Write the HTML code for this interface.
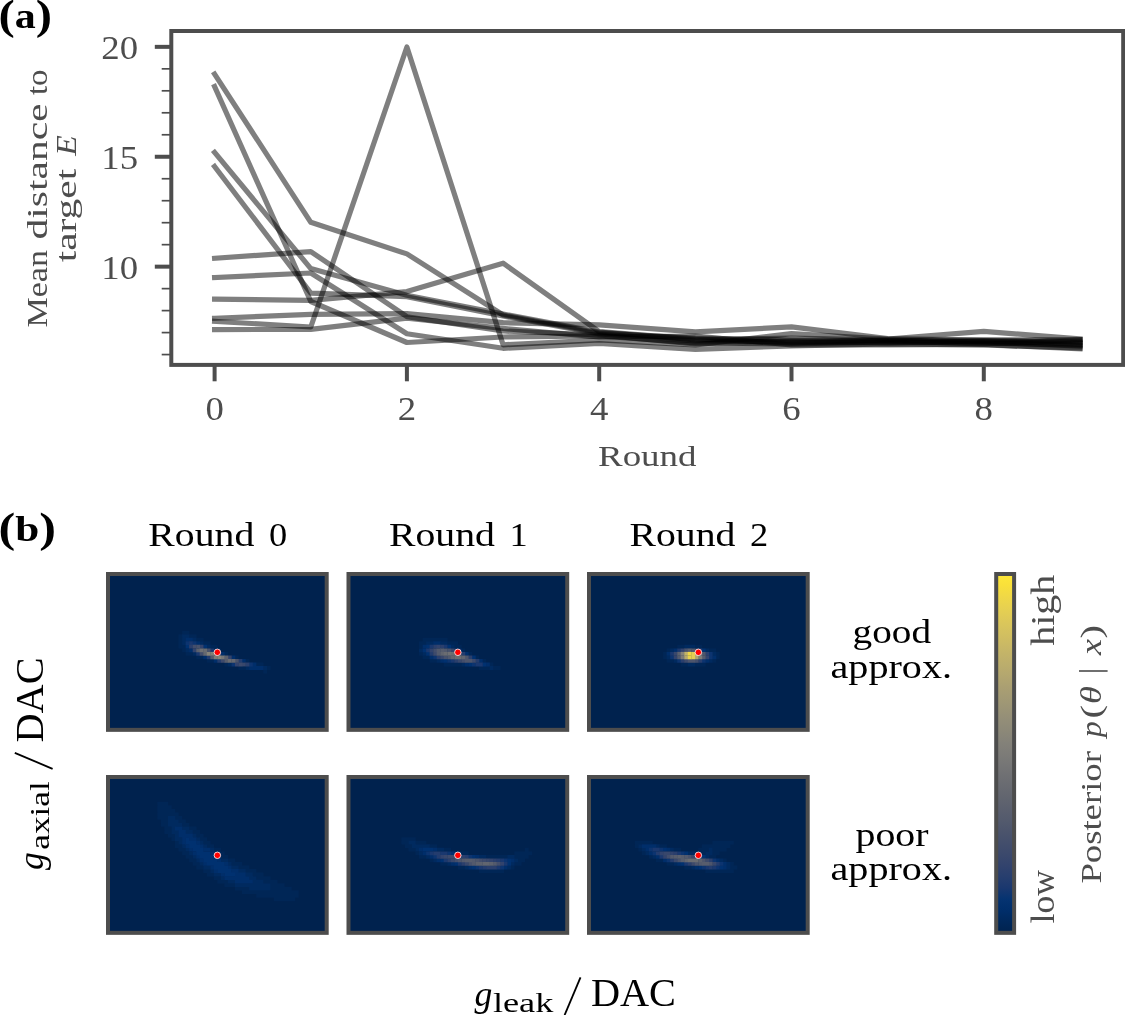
<!DOCTYPE html>
<html><head><meta charset="utf-8"><title>Figure</title>
<style>
html,body{margin:0;padding:0;background:#fff}
svg{display:block}
text{font-family:"Liberation Serif",serif}
.b{font-weight:bold}
.i{font-style:italic}
</style></head><body>
<svg width="1125" height="1015" viewBox="0 0 1125 1015">
<rect width="1125" height="1015" fill="#fff"/>
<g fill="none" stroke="#000" stroke-opacity="0.5" stroke-width="5.2" stroke-linejoin="round" stroke-linecap="square">
<polyline points="214.6,74.1 310.8,222.3 406.9,253.9 503.1,315.0 599.2,333.0 695.4,338.0 791.5,340.0 887.7,341.0 983.8,341.0 1080.0,343.0"/>
<polyline points="214.6,86.5 310.8,301.5 406.9,342.5 503.1,337.0 599.2,336.0 695.4,343.0 791.5,344.0 887.7,342.0 983.8,343.0 1080.0,345.0"/>
<polyline points="214.6,152.4 310.8,268.6 406.9,295.3 503.1,314.0 599.2,332.0 695.4,340.0 791.5,338.0 887.7,340.0 983.8,340.0 1080.0,342.0"/>
<polyline points="214.6,166.5 310.8,293.1 406.9,296.7 503.1,316.0 599.2,334.0 695.4,341.0 791.5,342.0 887.7,343.0 983.8,341.0 1080.0,344.0"/>
<polyline points="214.6,258.3 310.8,251.6 406.9,316.7 503.1,331.0 599.2,335.0 695.4,344.0 791.5,341.0 887.7,341.0 983.8,344.0 1080.0,340.0"/>
<polyline points="214.6,277.5 310.8,273.0 406.9,333.7 503.1,348.3 599.2,343.5 695.4,349.3 791.5,346.0 887.7,344.0 983.8,345.0 1080.0,348.0"/>
<polyline points="214.6,299.1 310.8,300.4 406.9,291.6 503.1,263.2 599.2,331.7 695.4,339.0 791.5,343.0 887.7,340.0 983.8,342.0 1080.0,346.0"/>
<polyline points="214.6,318.3 310.8,314.3 406.9,313.7 503.1,322.7 599.2,324.9 695.4,331.9 791.5,326.9 887.7,338.5 983.8,340.0 1080.0,339.5"/>
<polyline points="214.6,321.3 310.8,327.0 406.9,47.0 503.1,344.8 599.2,340.0 695.4,345.0 791.5,333.6 887.7,339.0 983.8,331.4 1080.0,339.0"/>
<polyline points="214.6,329.6 310.8,329.4 406.9,318.2 503.1,328.4 599.2,337.0 695.4,336.0 791.5,345.0 887.7,345.0 983.8,344.5 1080.0,348.8"/>
</g>
<g stroke="#4d4d4d" fill="none">
<line x1="154.8" x2="171.3" y1="46.85" y2="46.85" stroke-width="4"/>
<line x1="154.8" x2="171.3" y1="156.75" y2="156.75" stroke-width="4"/>
<line x1="154.8" x2="171.3" y1="266.65" y2="266.65" stroke-width="4"/>
<line x1="161.7" x2="171.3" y1="354.57" y2="354.57" stroke-width="1.7"/>
<line x1="161.7" x2="171.3" y1="332.59" y2="332.59" stroke-width="1.7"/>
<line x1="161.7" x2="171.3" y1="310.61" y2="310.61" stroke-width="1.7"/>
<line x1="161.7" x2="171.3" y1="288.63" y2="288.63" stroke-width="1.7"/>
<line x1="161.7" x2="171.3" y1="244.67" y2="244.67" stroke-width="1.7"/>
<line x1="161.7" x2="171.3" y1="222.69" y2="222.69" stroke-width="1.7"/>
<line x1="161.7" x2="171.3" y1="200.71" y2="200.71" stroke-width="1.7"/>
<line x1="161.7" x2="171.3" y1="178.73" y2="178.73" stroke-width="1.7"/>
<line x1="161.7" x2="171.3" y1="134.77" y2="134.77" stroke-width="1.7"/>
<line x1="161.7" x2="171.3" y1="112.79" y2="112.79" stroke-width="1.7"/>
<line x1="161.7" x2="171.3" y1="90.81" y2="90.81" stroke-width="1.7"/>
<line x1="161.7" x2="171.3" y1="68.83" y2="68.83" stroke-width="1.7"/>
<line x1="214.6" x2="214.6" y1="364.9" y2="381.3" stroke-width="4"/>
<line x1="406.9" x2="406.9" y1="364.9" y2="381.3" stroke-width="4"/>
<line x1="599.2" x2="599.2" y1="364.9" y2="381.3" stroke-width="4"/>
<line x1="791.5" x2="791.5" y1="364.9" y2="381.3" stroke-width="4"/>
<line x1="983.8" x2="983.8" y1="364.9" y2="381.3" stroke-width="4"/>
<rect x="171.3" y="31.0" width="951.9" height="333.9" stroke-width="4"/>
</g>
<text x="101.3" y="58.7" font-size="33.5" text-anchor="start" fill="#4d4d4d" textLength="36.8" lengthAdjust="spacingAndGlyphs">20</text>
<text x="101.3" y="168.6" font-size="33.5" text-anchor="start" fill="#4d4d4d" textLength="36.8" lengthAdjust="spacingAndGlyphs">15</text>
<text x="101.3" y="278.5" font-size="33.5" text-anchor="start" fill="#4d4d4d" textLength="36.8" lengthAdjust="spacingAndGlyphs">10</text>
<text x="205.4" y="419.8" font-size="33.5" text-anchor="start" fill="#4d4d4d" textLength="18.4" lengthAdjust="spacingAndGlyphs">0</text>
<text x="397.7" y="419.8" font-size="33.5" text-anchor="start" fill="#4d4d4d" textLength="18.4" lengthAdjust="spacingAndGlyphs">2</text>
<text x="590.0" y="419.8" font-size="33.5" text-anchor="start" fill="#4d4d4d" textLength="18.4" lengthAdjust="spacingAndGlyphs">4</text>
<text x="782.3" y="419.8" font-size="33.5" text-anchor="start" fill="#4d4d4d" textLength="18.4" lengthAdjust="spacingAndGlyphs">6</text>
<text x="974.6" y="419.8" font-size="33.5" text-anchor="start" fill="#4d4d4d" textLength="18.4" lengthAdjust="spacingAndGlyphs">8</text>
<text x="598.0" y="466.4" font-size="29.5" text-anchor="start" fill="#4d4d4d" textLength="98.5" lengthAdjust="spacingAndGlyphs">Round</text>
<text transform="translate(47.1 327.5) rotate(-90)" font-size="29.5" fill="#4d4d4d"><tspan x="0" textLength="77.5" lengthAdjust="spacingAndGlyphs">Mean</tspan> <tspan x="88" textLength="136" lengthAdjust="spacingAndGlyphs">distance</tspan> <tspan x="232.5" textLength="25.5" lengthAdjust="spacingAndGlyphs">to</tspan></text>
<text transform="translate(76.3 262.3) rotate(-90)" font-size="29.5" fill="#4d4d4d"><tspan x="0" textLength="93.5" lengthAdjust="spacingAndGlyphs">target</tspan> <tspan x="106.5" class="i" textLength="20.5" lengthAdjust="spacingAndGlyphs">E</tspan></text>
<text x="-1.5" y="27.7" font-size="36.5" fill="#000" class="b" textLength="53.5" lengthAdjust="spacingAndGlyphs"><tspan font-size="42.5" dy="1.3">(</tspan><tspan dy="-1.3">a</tspan><tspan font-size="42.5" dy="1.3">)</tspan></text>
<text x="-1.5" y="540.8" font-size="36.5" fill="#000" class="b" textLength="57.5" lengthAdjust="spacingAndGlyphs"><tspan font-size="42.5" dy="1.3">(</tspan><tspan dy="-1.3">b</tspan><tspan font-size="42.5" dy="1.3">)</tspan></text>
<defs><filter id="sb" color-interpolation-filters="sRGB" x="-5%" y="-5%" width="110%" height="110%"><feGaussianBlur stdDeviation="0.45"/></filter></defs>
<rect x="108" y="574" width="218.7" height="155.85" fill="#00224e"/>
<g filter="url(#sb)">
<path fill="#002656" d="M182.1 630.7h3.8v3.8h-3.8zM185.6 630.7h3.8v3.8h-3.8zM178.5 634.2h3.8v3.8h-3.8zM189.1 634.2h3.8v3.8h-3.8zM192.7 634.2h3.8v3.8h-3.8zM178.5 637.8h3.8v3.8h-3.8zM196.2 637.8h3.8v3.8h-3.8zM199.7 637.8h3.8v3.8h-3.8zM178.5 641.3h3.8v3.8h-3.8zM203.2 641.3h3.8v3.8h-3.8zM206.8 641.3h3.8v3.8h-3.8zM178.5 644.8h3.8v3.8h-3.8zM182.1 644.8h3.8v3.8h-3.8zM210.3 644.8h3.8v3.8h-3.8zM213.8 644.8h3.8v3.8h-3.8zM182.1 648.4h3.8v3.8h-3.8zM217.3 648.4h3.8v3.8h-3.8zM185.6 651.9h3.8v3.8h-3.8zM189.1 651.9h3.8v3.8h-3.8zM224.4 651.9h3.8v3.8h-3.8zM196.2 655.5h3.8v3.8h-3.8zM199.7 655.5h3.8v3.8h-3.8zM235.0 655.5h3.8v3.8h-3.8zM206.8 659.0h3.8v3.8h-3.8zM210.3 659.0h3.8v3.8h-3.8zM245.6 659.0h3.8v3.8h-3.8zM224.4 662.6h3.8v3.8h-3.8zM256.2 662.6h3.8v3.8h-3.8zM259.7 662.6h3.8v3.8h-3.8zM238.5 666.1h3.8v3.8h-3.8zM242.0 666.1h3.8v3.8h-3.8zM266.7 666.1h3.8v3.8h-3.8zM263.2 669.6h3.8v3.8h-3.8z"/>
<path fill="#002a5f" d="M182.1 634.2h3.8v3.8h-3.8zM185.6 634.2h3.8v3.8h-3.8zM182.1 637.8h3.8v3.8h-3.8zM192.7 637.8h3.8v3.8h-3.8zM182.1 641.3h3.8v3.8h-3.8zM199.7 641.3h3.8v3.8h-3.8zM206.8 644.8h3.8v3.8h-3.8zM185.6 648.4h3.8v3.8h-3.8zM213.8 648.4h3.8v3.8h-3.8zM192.7 651.9h3.8v3.8h-3.8zM227.9 662.6h3.8v3.8h-3.8zM245.6 666.1h3.8v3.8h-3.8zM263.2 666.1h3.8v3.8h-3.8z"/>
<path fill="#002e6a" d="M185.6 637.8h3.8v3.8h-3.8zM189.1 637.8h3.8v3.8h-3.8zM196.2 641.3h3.8v3.8h-3.8zM189.1 648.4h3.8v3.8h-3.8zM220.9 651.9h3.8v3.8h-3.8zM203.2 655.5h3.8v3.8h-3.8zM231.5 655.5h3.8v3.8h-3.8zM213.8 659.0h3.8v3.8h-3.8zM242.0 659.0h3.8v3.8h-3.8zM252.6 662.6h3.8v3.8h-3.8zM249.1 666.1h3.8v3.8h-3.8zM252.6 666.1h3.8v3.8h-3.8zM256.2 666.1h3.8v3.8h-3.8zM259.7 666.1h3.8v3.8h-3.8z"/>
<path fill="#003170" d="M185.6 644.8h3.8v3.8h-3.8zM203.2 644.8h3.8v3.8h-3.8z"/>
<path fill="#0c3470" d="M185.6 641.3h3.8v3.8h-3.8zM192.7 641.3h3.8v3.8h-3.8zM231.5 662.6h3.8v3.8h-3.8zM249.1 662.6h3.8v3.8h-3.8z"/>
<path fill="#1a386f" d="M189.1 641.3h3.8v3.8h-3.8zM210.3 648.4h3.8v3.8h-3.8zM196.2 651.9h3.8v3.8h-3.8z"/>
<path fill="#233c6e" d="M206.8 655.5h3.8v3.8h-3.8zM217.3 659.0h3.8v3.8h-3.8zM238.5 659.0h3.8v3.8h-3.8z"/>
<path fill="#2a3f6d" d="M189.1 644.8h3.8v3.8h-3.8zM217.3 651.9h3.8v3.8h-3.8zM245.6 662.6h3.8v3.8h-3.8z"/>
<path fill="#32436d" d="M199.7 644.8h3.8v3.8h-3.8zM192.7 648.4h3.8v3.8h-3.8zM227.9 655.5h3.8v3.8h-3.8zM235.0 662.6h3.8v3.8h-3.8z"/>
<path fill="#38476c" d="M242.0 662.6h3.8v3.8h-3.8z"/>
<path fill="#3d4a6c" d="M220.9 659.0h3.8v3.8h-3.8zM238.5 662.6h3.8v3.8h-3.8z"/>
<path fill="#434e6c" d="M192.7 644.8h3.8v3.8h-3.8zM199.7 651.9h3.8v3.8h-3.8z"/>
<path fill="#48526c" d="M196.2 644.8h3.8v3.8h-3.8zM206.8 648.4h3.8v3.8h-3.8zM235.0 659.0h3.8v3.8h-3.8z"/>
<path fill="#535a6d" d="M210.3 655.5h3.8v3.8h-3.8z"/>
<path fill="#575d6d" d="M224.4 659.0h3.8v3.8h-3.8z"/>
<path fill="#5c616e" d="M196.2 648.4h3.8v3.8h-3.8zM213.8 651.9h3.8v3.8h-3.8zM224.4 655.5h3.8v3.8h-3.8z"/>
<path fill="#656870" d="M203.2 651.9h3.8v3.8h-3.8zM231.5 659.0h3.8v3.8h-3.8z"/>
<path fill="#6a6c71" d="M203.2 648.4h3.8v3.8h-3.8zM227.9 659.0h3.8v3.8h-3.8z"/>
<path fill="#6f7073" d="M199.7 648.4h3.8v3.8h-3.8z"/>
<path fill="#777777" d="M220.9 655.5h3.8v3.8h-3.8z"/>
<path fill="#7d7c78" d="M213.8 655.5h3.8v3.8h-3.8z"/>
<path fill="#817f78" d="M210.3 651.9h3.8v3.8h-3.8z"/>
<path fill="#868379" d="M206.8 651.9h3.8v3.8h-3.8zM217.3 655.5h3.8v3.8h-3.8z"/>
</g>
<circle cx="217.35" cy="652.32" r="3.25" fill="#ff0000" stroke="#fff" stroke-width="0.8"/>
<rect x="108" y="574" width="218.7" height="155.85" fill="none" stroke="#4d4d4d" stroke-width="4"/>
<rect x="348.5" y="574" width="218.7" height="155.85" fill="#00224e"/>
<g filter="url(#sb)">
<path fill="#002656" d="M422.6 637.8h3.8v3.8h-3.8zM426.1 637.8h3.8v3.8h-3.8zM429.6 637.8h3.8v3.8h-3.8zM433.2 637.8h3.8v3.8h-3.8zM436.7 637.8h3.8v3.8h-3.8zM440.2 637.8h3.8v3.8h-3.8zM443.7 637.8h3.8v3.8h-3.8zM419.0 641.3h3.8v3.8h-3.8zM422.6 641.3h3.8v3.8h-3.8zM447.3 641.3h3.8v3.8h-3.8zM450.8 641.3h3.8v3.8h-3.8zM454.3 641.3h3.8v3.8h-3.8zM419.0 644.8h3.8v3.8h-3.8zM454.3 644.8h3.8v3.8h-3.8zM457.9 644.8h3.8v3.8h-3.8zM461.4 648.4h3.8v3.8h-3.8zM419.0 651.9h3.8v3.8h-3.8zM468.4 651.9h3.8v3.8h-3.8zM422.6 655.5h3.8v3.8h-3.8zM426.1 655.5h3.8v3.8h-3.8zM475.5 655.5h3.8v3.8h-3.8zM429.6 659.0h3.8v3.8h-3.8zM433.2 659.0h3.8v3.8h-3.8zM482.5 659.0h3.8v3.8h-3.8zM443.7 662.6h3.8v3.8h-3.8zM447.3 662.6h3.8v3.8h-3.8zM450.8 662.6h3.8v3.8h-3.8zM454.3 662.6h3.8v3.8h-3.8zM457.9 662.6h3.8v3.8h-3.8zM489.6 662.6h3.8v3.8h-3.8zM479.0 666.1h3.8v3.8h-3.8zM482.5 666.1h3.8v3.8h-3.8zM486.1 666.1h3.8v3.8h-3.8zM493.1 666.1h3.8v3.8h-3.8zM496.7 666.1h3.8v3.8h-3.8z"/>
<path fill="#002a5f" d="M426.1 641.3h3.8v3.8h-3.8zM429.6 641.3h3.8v3.8h-3.8zM440.2 641.3h3.8v3.8h-3.8zM443.7 641.3h3.8v3.8h-3.8zM450.8 644.8h3.8v3.8h-3.8zM419.0 648.4h3.8v3.8h-3.8zM422.6 651.9h3.8v3.8h-3.8zM436.7 659.0h3.8v3.8h-3.8zM461.4 662.6h3.8v3.8h-3.8zM489.6 666.1h3.8v3.8h-3.8z"/>
<path fill="#002e6a" d="M433.2 641.3h3.8v3.8h-3.8zM436.7 641.3h3.8v3.8h-3.8zM422.6 644.8h3.8v3.8h-3.8zM457.9 648.4h3.8v3.8h-3.8zM464.9 651.9h3.8v3.8h-3.8zM429.6 655.5h3.8v3.8h-3.8zM440.2 659.0h3.8v3.8h-3.8zM479.0 659.0h3.8v3.8h-3.8zM464.9 662.6h3.8v3.8h-3.8zM486.1 662.6h3.8v3.8h-3.8z"/>
<path fill="#003170" d="M426.1 644.8h3.8v3.8h-3.8zM447.3 644.8h3.8v3.8h-3.8zM422.6 648.4h3.8v3.8h-3.8zM426.1 651.9h3.8v3.8h-3.8zM472.0 655.5h3.8v3.8h-3.8zM443.7 659.0h3.8v3.8h-3.8zM468.4 662.6h3.8v3.8h-3.8zM482.5 662.6h3.8v3.8h-3.8z"/>
<path fill="#0c3470" d="M433.2 655.5h3.8v3.8h-3.8zM447.3 659.0h3.8v3.8h-3.8zM472.0 662.6h3.8v3.8h-3.8z"/>
<path fill="#1a386f" d="M429.6 644.8h3.8v3.8h-3.8zM443.7 644.8h3.8v3.8h-3.8zM426.1 648.4h3.8v3.8h-3.8zM454.3 648.4h3.8v3.8h-3.8zM450.8 659.0h3.8v3.8h-3.8zM475.5 662.6h3.8v3.8h-3.8zM479.0 662.6h3.8v3.8h-3.8z"/>
<path fill="#233c6e" d="M429.6 651.9h3.8v3.8h-3.8zM461.4 651.9h3.8v3.8h-3.8zM475.5 659.0h3.8v3.8h-3.8z"/>
<path fill="#2a3f6d" d="M433.2 644.8h3.8v3.8h-3.8zM440.2 644.8h3.8v3.8h-3.8zM436.7 655.5h3.8v3.8h-3.8zM468.4 655.5h3.8v3.8h-3.8zM454.3 659.0h3.8v3.8h-3.8z"/>
<path fill="#32436d" d="M436.7 644.8h3.8v3.8h-3.8zM429.6 648.4h3.8v3.8h-3.8z"/>
<path fill="#38476c" d="M450.8 648.4h3.8v3.8h-3.8zM440.2 655.5h3.8v3.8h-3.8zM457.9 659.0h3.8v3.8h-3.8z"/>
<path fill="#3d4a6c" d="M433.2 651.9h3.8v3.8h-3.8zM472.0 659.0h3.8v3.8h-3.8z"/>
<path fill="#434e6c" d="M433.2 648.4h3.8v3.8h-3.8zM457.9 651.9h3.8v3.8h-3.8zM461.4 659.0h3.8v3.8h-3.8z"/>
<path fill="#48526c" d="M447.3 648.4h3.8v3.8h-3.8zM443.7 655.5h3.8v3.8h-3.8z"/>
<path fill="#4d556c" d="M464.9 655.5h3.8v3.8h-3.8zM464.9 659.0h3.8v3.8h-3.8zM468.4 659.0h3.8v3.8h-3.8z"/>
<path fill="#535a6d" d="M436.7 648.4h3.8v3.8h-3.8zM443.7 648.4h3.8v3.8h-3.8zM436.7 651.9h3.8v3.8h-3.8zM447.3 655.5h3.8v3.8h-3.8z"/>
<path fill="#575d6d" d="M440.2 648.4h3.8v3.8h-3.8z"/>
<path fill="#5c616e" d="M454.3 651.9h3.8v3.8h-3.8z"/>
<path fill="#61656f" d="M440.2 651.9h3.8v3.8h-3.8zM450.8 655.5h3.8v3.8h-3.8zM461.4 655.5h3.8v3.8h-3.8z"/>
<path fill="#6a6c71" d="M443.7 651.9h3.8v3.8h-3.8zM450.8 651.9h3.8v3.8h-3.8zM454.3 655.5h3.8v3.8h-3.8zM457.9 655.5h3.8v3.8h-3.8z"/>
<path fill="#6f7073" d="M447.3 651.9h3.8v3.8h-3.8z"/>
</g>
<circle cx="457.85" cy="652.32" r="3.25" fill="#ff0000" stroke="#fff" stroke-width="0.8"/>
<rect x="348.5" y="574" width="218.7" height="155.85" fill="none" stroke="#4d4d4d" stroke-width="4"/>
<rect x="589" y="574" width="218.7" height="155.85" fill="#00224e"/>
<g filter="url(#sb)">
<path fill="#002656" d="M677.2 644.8h3.8v3.8h-3.8zM680.7 644.8h3.8v3.8h-3.8zM694.8 644.8h3.8v3.8h-3.8zM698.4 644.8h3.8v3.8h-3.8zM666.6 648.4h3.8v3.8h-3.8zM708.9 648.4h3.8v3.8h-3.8zM712.5 648.4h3.8v3.8h-3.8zM663.1 651.9h3.8v3.8h-3.8zM716.0 651.9h3.8v3.8h-3.8zM663.1 655.5h3.8v3.8h-3.8zM716.0 655.5h3.8v3.8h-3.8zM666.6 659.0h3.8v3.8h-3.8zM670.1 659.0h3.8v3.8h-3.8zM712.5 659.0h3.8v3.8h-3.8zM680.7 662.6h3.8v3.8h-3.8zM684.2 662.6h3.8v3.8h-3.8zM694.8 662.6h3.8v3.8h-3.8zM698.4 662.6h3.8v3.8h-3.8zM701.9 662.6h3.8v3.8h-3.8z"/>
<path fill="#002a5f" d="M684.2 644.8h3.8v3.8h-3.8zM687.8 644.8h3.8v3.8h-3.8zM691.3 644.8h3.8v3.8h-3.8zM670.1 648.4h3.8v3.8h-3.8zM705.4 648.4h3.8v3.8h-3.8zM712.5 651.9h3.8v3.8h-3.8zM666.6 655.5h3.8v3.8h-3.8zM673.7 659.0h3.8v3.8h-3.8zM708.9 659.0h3.8v3.8h-3.8zM687.8 662.6h3.8v3.8h-3.8zM691.3 662.6h3.8v3.8h-3.8z"/>
<path fill="#002e6a" d="M673.7 648.4h3.8v3.8h-3.8zM666.6 651.9h3.8v3.8h-3.8zM712.5 655.5h3.8v3.8h-3.8zM705.4 659.0h3.8v3.8h-3.8z"/>
<path fill="#003170" d="M701.9 648.4h3.8v3.8h-3.8z"/>
<path fill="#0c3470" d="M708.9 651.9h3.8v3.8h-3.8zM670.1 655.5h3.8v3.8h-3.8zM708.9 655.5h3.8v3.8h-3.8zM677.2 659.0h3.8v3.8h-3.8zM701.9 659.0h3.8v3.8h-3.8z"/>
<path fill="#1a386f" d="M677.2 648.4h3.8v3.8h-3.8zM670.1 651.9h3.8v3.8h-3.8z"/>
<path fill="#233c6e" d="M698.4 648.4h3.8v3.8h-3.8z"/>
<path fill="#2a3f6d" d="M705.4 651.9h3.8v3.8h-3.8zM680.7 659.0h3.8v3.8h-3.8zM698.4 659.0h3.8v3.8h-3.8z"/>
<path fill="#32436d" d="M680.7 648.4h3.8v3.8h-3.8zM673.7 655.5h3.8v3.8h-3.8zM705.4 655.5h3.8v3.8h-3.8z"/>
<path fill="#38476c" d="M673.7 651.9h3.8v3.8h-3.8z"/>
<path fill="#3d4a6c" d="M694.8 648.4h3.8v3.8h-3.8zM684.2 659.0h3.8v3.8h-3.8z"/>
<path fill="#434e6c" d="M694.8 659.0h3.8v3.8h-3.8z"/>
<path fill="#48526c" d="M684.2 648.4h3.8v3.8h-3.8z"/>
<path fill="#4d556c" d="M701.9 651.9h3.8v3.8h-3.8zM687.8 659.0h3.8v3.8h-3.8zM691.3 659.0h3.8v3.8h-3.8z"/>
<path fill="#535a6d" d="M691.3 648.4h3.8v3.8h-3.8zM677.2 655.5h3.8v3.8h-3.8zM701.9 655.5h3.8v3.8h-3.8z"/>
<path fill="#575d6d" d="M687.8 648.4h3.8v3.8h-3.8z"/>
<path fill="#5c616e" d="M677.2 651.9h3.8v3.8h-3.8z"/>
<path fill="#777777" d="M698.4 651.9h3.8v3.8h-3.8z"/>
<path fill="#7d7c78" d="M680.7 655.5h3.8v3.8h-3.8zM698.4 655.5h3.8v3.8h-3.8z"/>
<path fill="#868379" d="M680.7 651.9h3.8v3.8h-3.8z"/>
<path fill="#b0a571" d="M694.8 651.9h3.8v3.8h-3.8zM694.8 655.5h3.8v3.8h-3.8z"/>
<path fill="#b6a96f" d="M684.2 655.5h3.8v3.8h-3.8z"/>
<path fill="#c1b26a" d="M684.2 651.9h3.8v3.8h-3.8z"/>
<path fill="#e4ce53" d="M691.3 651.9h3.8v3.8h-3.8zM691.3 655.5h3.8v3.8h-3.8z"/>
<path fill="#e9d34e" d="M687.8 655.5h3.8v3.8h-3.8z"/>
<path fill="#f0d846" d="M687.8 651.9h3.8v3.8h-3.8z"/>
</g>
<circle cx="698.35" cy="652.32" r="3.25" fill="#ff0000" stroke="#fff" stroke-width="0.8"/>
<rect x="589" y="574" width="218.7" height="155.85" fill="none" stroke="#4d4d4d" stroke-width="4"/>
<rect x="108" y="777" width="218.7" height="155.85" fill="#00224e"/>
<g filter="url(#sb)">
<path fill="#002656" d="M157.4 801.8h3.8v3.8h-3.8zM160.9 801.8h3.8v3.8h-3.8zM164.4 801.8h3.8v3.8h-3.8zM157.4 805.3h3.8v3.8h-3.8zM160.9 805.3h3.8v3.8h-3.8zM164.4 805.3h3.8v3.8h-3.8zM168.0 805.3h3.8v3.8h-3.8zM157.4 808.9h3.8v3.8h-3.8zM160.9 808.9h3.8v3.8h-3.8zM164.4 808.9h3.8v3.8h-3.8zM168.0 808.9h3.8v3.8h-3.8zM171.5 808.9h3.8v3.8h-3.8zM157.4 812.4h3.8v3.8h-3.8zM160.9 812.4h3.8v3.8h-3.8zM164.4 812.4h3.8v3.8h-3.8zM168.0 812.4h3.8v3.8h-3.8zM171.5 812.4h3.8v3.8h-3.8zM175.0 812.4h3.8v3.8h-3.8zM157.4 816.0h3.8v3.8h-3.8zM160.9 816.0h3.8v3.8h-3.8zM164.4 816.0h3.8v3.8h-3.8zM175.0 816.0h3.8v3.8h-3.8zM178.5 816.0h3.8v3.8h-3.8zM160.9 819.5h3.8v3.8h-3.8zM164.4 819.5h3.8v3.8h-3.8zM178.5 819.5h3.8v3.8h-3.8zM182.1 819.5h3.8v3.8h-3.8zM160.9 823.0h3.8v3.8h-3.8zM164.4 823.0h3.8v3.8h-3.8zM182.1 823.0h3.8v3.8h-3.8zM185.6 823.0h3.8v3.8h-3.8zM164.4 826.6h3.8v3.8h-3.8zM168.0 826.6h3.8v3.8h-3.8zM189.1 826.6h3.8v3.8h-3.8zM192.7 826.6h3.8v3.8h-3.8zM164.4 830.1h3.8v3.8h-3.8zM168.0 830.1h3.8v3.8h-3.8zM192.7 830.1h3.8v3.8h-3.8zM196.2 830.1h3.8v3.8h-3.8zM168.0 833.7h3.8v3.8h-3.8zM171.5 833.7h3.8v3.8h-3.8zM196.2 833.7h3.8v3.8h-3.8zM199.7 833.7h3.8v3.8h-3.8zM171.5 837.2h3.8v3.8h-3.8zM199.7 837.2h3.8v3.8h-3.8zM203.2 837.2h3.8v3.8h-3.8zM175.0 840.8h3.8v3.8h-3.8zM203.2 840.8h3.8v3.8h-3.8zM206.8 840.8h3.8v3.8h-3.8zM175.0 844.3h3.8v3.8h-3.8zM178.5 844.3h3.8v3.8h-3.8zM206.8 844.3h3.8v3.8h-3.8zM210.3 844.3h3.8v3.8h-3.8zM178.5 847.8h3.8v3.8h-3.8zM182.1 847.8h3.8v3.8h-3.8zM213.8 847.8h3.8v3.8h-3.8zM217.3 847.8h3.8v3.8h-3.8zM182.1 851.4h3.8v3.8h-3.8zM185.6 851.4h3.8v3.8h-3.8zM217.3 851.4h3.8v3.8h-3.8zM220.9 851.4h3.8v3.8h-3.8zM185.6 854.9h3.8v3.8h-3.8zM189.1 854.9h3.8v3.8h-3.8zM220.9 854.9h3.8v3.8h-3.8zM224.4 854.9h3.8v3.8h-3.8zM189.1 858.5h3.8v3.8h-3.8zM192.7 858.5h3.8v3.8h-3.8zM227.9 858.5h3.8v3.8h-3.8zM231.5 858.5h3.8v3.8h-3.8zM192.7 862.0h3.8v3.8h-3.8zM196.2 862.0h3.8v3.8h-3.8zM231.5 862.0h3.8v3.8h-3.8zM235.0 862.0h3.8v3.8h-3.8zM238.5 862.0h3.8v3.8h-3.8zM196.2 865.6h3.8v3.8h-3.8zM199.7 865.6h3.8v3.8h-3.8zM238.5 865.6h3.8v3.8h-3.8zM242.0 865.6h3.8v3.8h-3.8zM245.6 865.6h3.8v3.8h-3.8zM203.2 869.1h3.8v3.8h-3.8zM206.8 869.1h3.8v3.8h-3.8zM245.6 869.1h3.8v3.8h-3.8zM249.1 869.1h3.8v3.8h-3.8zM252.6 869.1h3.8v3.8h-3.8zM206.8 872.6h3.8v3.8h-3.8zM210.3 872.6h3.8v3.8h-3.8zM252.6 872.6h3.8v3.8h-3.8zM256.2 872.6h3.8v3.8h-3.8zM259.7 872.6h3.8v3.8h-3.8zM213.8 876.2h3.8v3.8h-3.8zM217.3 876.2h3.8v3.8h-3.8zM256.2 876.2h3.8v3.8h-3.8zM259.7 876.2h3.8v3.8h-3.8zM263.2 876.2h3.8v3.8h-3.8zM266.7 876.2h3.8v3.8h-3.8zM217.3 879.7h3.8v3.8h-3.8zM220.9 879.7h3.8v3.8h-3.8zM224.4 879.7h3.8v3.8h-3.8zM263.2 879.7h3.8v3.8h-3.8zM266.7 879.7h3.8v3.8h-3.8zM270.3 879.7h3.8v3.8h-3.8zM273.8 879.7h3.8v3.8h-3.8zM224.4 883.3h3.8v3.8h-3.8zM227.9 883.3h3.8v3.8h-3.8zM231.5 883.3h3.8v3.8h-3.8zM270.3 883.3h3.8v3.8h-3.8zM273.8 883.3h3.8v3.8h-3.8zM277.3 883.3h3.8v3.8h-3.8zM280.8 883.3h3.8v3.8h-3.8zM235.0 886.8h3.8v3.8h-3.8zM238.5 886.8h3.8v3.8h-3.8zM242.0 886.8h3.8v3.8h-3.8zM245.6 886.8h3.8v3.8h-3.8zM270.3 886.8h3.8v3.8h-3.8zM273.8 886.8h3.8v3.8h-3.8zM277.3 886.8h3.8v3.8h-3.8zM280.8 886.8h3.8v3.8h-3.8zM284.4 886.8h3.8v3.8h-3.8zM287.9 886.8h3.8v3.8h-3.8zM242.0 890.3h3.8v3.8h-3.8zM245.6 890.3h3.8v3.8h-3.8zM249.1 890.3h3.8v3.8h-3.8zM252.6 890.3h3.8v3.8h-3.8zM256.2 890.3h3.8v3.8h-3.8zM259.7 890.3h3.8v3.8h-3.8zM263.2 890.3h3.8v3.8h-3.8zM266.7 890.3h3.8v3.8h-3.8zM270.3 890.3h3.8v3.8h-3.8zM273.8 890.3h3.8v3.8h-3.8zM277.3 890.3h3.8v3.8h-3.8zM280.8 890.3h3.8v3.8h-3.8zM284.4 890.3h3.8v3.8h-3.8zM287.9 890.3h3.8v3.8h-3.8zM291.4 890.3h3.8v3.8h-3.8zM295.0 890.3h3.8v3.8h-3.8zM256.2 893.9h3.8v3.8h-3.8zM259.7 893.9h3.8v3.8h-3.8zM263.2 893.9h3.8v3.8h-3.8zM266.7 893.9h3.8v3.8h-3.8zM270.3 893.9h3.8v3.8h-3.8zM273.8 893.9h3.8v3.8h-3.8zM277.3 893.9h3.8v3.8h-3.8zM280.8 893.9h3.8v3.8h-3.8zM284.4 893.9h3.8v3.8h-3.8zM287.9 893.9h3.8v3.8h-3.8zM291.4 893.9h3.8v3.8h-3.8zM295.0 893.9h3.8v3.8h-3.8zM273.8 897.4h3.8v3.8h-3.8zM277.3 897.4h3.8v3.8h-3.8zM280.8 897.4h3.8v3.8h-3.8zM284.4 897.4h3.8v3.8h-3.8zM287.9 897.4h3.8v3.8h-3.8zM291.4 897.4h3.8v3.8h-3.8z"/>
<path fill="#002a5f" d="M168.0 816.0h3.8v3.8h-3.8zM171.5 816.0h3.8v3.8h-3.8zM168.0 819.5h3.8v3.8h-3.8zM171.5 819.5h3.8v3.8h-3.8zM175.0 819.5h3.8v3.8h-3.8zM168.0 823.0h3.8v3.8h-3.8zM171.5 823.0h3.8v3.8h-3.8zM175.0 823.0h3.8v3.8h-3.8zM178.5 823.0h3.8v3.8h-3.8zM171.5 826.6h3.8v3.8h-3.8zM182.1 826.6h3.8v3.8h-3.8zM185.6 826.6h3.8v3.8h-3.8zM171.5 830.1h3.8v3.8h-3.8zM175.0 830.1h3.8v3.8h-3.8zM185.6 830.1h3.8v3.8h-3.8zM189.1 830.1h3.8v3.8h-3.8zM175.0 833.7h3.8v3.8h-3.8zM192.7 833.7h3.8v3.8h-3.8zM175.0 837.2h3.8v3.8h-3.8zM178.5 837.2h3.8v3.8h-3.8zM196.2 837.2h3.8v3.8h-3.8zM178.5 840.8h3.8v3.8h-3.8zM199.7 840.8h3.8v3.8h-3.8zM182.1 844.3h3.8v3.8h-3.8zM203.2 844.3h3.8v3.8h-3.8zM185.6 847.8h3.8v3.8h-3.8zM210.3 847.8h3.8v3.8h-3.8zM189.1 851.4h3.8v3.8h-3.8zM213.8 851.4h3.8v3.8h-3.8zM192.7 854.9h3.8v3.8h-3.8zM217.3 854.9h3.8v3.8h-3.8zM196.2 858.5h3.8v3.8h-3.8zM220.9 858.5h3.8v3.8h-3.8zM224.4 858.5h3.8v3.8h-3.8zM199.7 862.0h3.8v3.8h-3.8zM227.9 862.0h3.8v3.8h-3.8zM203.2 865.6h3.8v3.8h-3.8zM206.8 865.6h3.8v3.8h-3.8zM231.5 865.6h3.8v3.8h-3.8zM235.0 865.6h3.8v3.8h-3.8zM210.3 869.1h3.8v3.8h-3.8zM238.5 869.1h3.8v3.8h-3.8zM242.0 869.1h3.8v3.8h-3.8zM213.8 872.6h3.8v3.8h-3.8zM217.3 872.6h3.8v3.8h-3.8zM245.6 872.6h3.8v3.8h-3.8zM249.1 872.6h3.8v3.8h-3.8zM220.9 876.2h3.8v3.8h-3.8zM249.1 876.2h3.8v3.8h-3.8zM252.6 876.2h3.8v3.8h-3.8zM227.9 879.7h3.8v3.8h-3.8zM231.5 879.7h3.8v3.8h-3.8zM252.6 879.7h3.8v3.8h-3.8zM256.2 879.7h3.8v3.8h-3.8zM259.7 879.7h3.8v3.8h-3.8zM235.0 883.3h3.8v3.8h-3.8zM238.5 883.3h3.8v3.8h-3.8zM242.0 883.3h3.8v3.8h-3.8zM245.6 883.3h3.8v3.8h-3.8zM249.1 883.3h3.8v3.8h-3.8zM252.6 883.3h3.8v3.8h-3.8zM256.2 883.3h3.8v3.8h-3.8zM259.7 883.3h3.8v3.8h-3.8zM263.2 883.3h3.8v3.8h-3.8zM266.7 883.3h3.8v3.8h-3.8zM249.1 886.8h3.8v3.8h-3.8zM252.6 886.8h3.8v3.8h-3.8zM256.2 886.8h3.8v3.8h-3.8zM259.7 886.8h3.8v3.8h-3.8zM263.2 886.8h3.8v3.8h-3.8zM266.7 886.8h3.8v3.8h-3.8z"/>
<path fill="#002e6a" d="M175.0 826.6h3.8v3.8h-3.8zM178.5 826.6h3.8v3.8h-3.8zM178.5 830.1h3.8v3.8h-3.8zM182.1 830.1h3.8v3.8h-3.8zM178.5 833.7h3.8v3.8h-3.8zM182.1 833.7h3.8v3.8h-3.8zM185.6 833.7h3.8v3.8h-3.8zM189.1 833.7h3.8v3.8h-3.8zM182.1 837.2h3.8v3.8h-3.8zM189.1 837.2h3.8v3.8h-3.8zM192.7 837.2h3.8v3.8h-3.8zM182.1 840.8h3.8v3.8h-3.8zM196.2 840.8h3.8v3.8h-3.8zM185.6 844.3h3.8v3.8h-3.8zM199.7 844.3h3.8v3.8h-3.8zM189.1 847.8h3.8v3.8h-3.8zM203.2 847.8h3.8v3.8h-3.8zM206.8 847.8h3.8v3.8h-3.8zM192.7 851.4h3.8v3.8h-3.8zM210.3 851.4h3.8v3.8h-3.8zM196.2 854.9h3.8v3.8h-3.8zM213.8 854.9h3.8v3.8h-3.8zM199.7 858.5h3.8v3.8h-3.8zM217.3 858.5h3.8v3.8h-3.8zM203.2 862.0h3.8v3.8h-3.8zM224.4 862.0h3.8v3.8h-3.8zM210.3 865.6h3.8v3.8h-3.8zM227.9 865.6h3.8v3.8h-3.8zM213.8 869.1h3.8v3.8h-3.8zM231.5 869.1h3.8v3.8h-3.8zM235.0 869.1h3.8v3.8h-3.8zM220.9 872.6h3.8v3.8h-3.8zM235.0 872.6h3.8v3.8h-3.8zM238.5 872.6h3.8v3.8h-3.8zM242.0 872.6h3.8v3.8h-3.8zM224.4 876.2h3.8v3.8h-3.8zM227.9 876.2h3.8v3.8h-3.8zM231.5 876.2h3.8v3.8h-3.8zM235.0 876.2h3.8v3.8h-3.8zM238.5 876.2h3.8v3.8h-3.8zM242.0 876.2h3.8v3.8h-3.8zM245.6 876.2h3.8v3.8h-3.8zM235.0 879.7h3.8v3.8h-3.8zM238.5 879.7h3.8v3.8h-3.8zM242.0 879.7h3.8v3.8h-3.8zM245.6 879.7h3.8v3.8h-3.8zM249.1 879.7h3.8v3.8h-3.8z"/>
<path fill="#003170" d="M185.6 837.2h3.8v3.8h-3.8zM185.6 840.8h3.8v3.8h-3.8zM189.1 840.8h3.8v3.8h-3.8zM192.7 840.8h3.8v3.8h-3.8zM189.1 844.3h3.8v3.8h-3.8zM192.7 844.3h3.8v3.8h-3.8zM196.2 844.3h3.8v3.8h-3.8zM192.7 847.8h3.8v3.8h-3.8zM196.2 847.8h3.8v3.8h-3.8zM199.7 847.8h3.8v3.8h-3.8zM196.2 851.4h3.8v3.8h-3.8zM199.7 851.4h3.8v3.8h-3.8zM203.2 851.4h3.8v3.8h-3.8zM206.8 851.4h3.8v3.8h-3.8zM199.7 854.9h3.8v3.8h-3.8zM203.2 854.9h3.8v3.8h-3.8zM206.8 854.9h3.8v3.8h-3.8zM210.3 854.9h3.8v3.8h-3.8zM203.2 858.5h3.8v3.8h-3.8zM206.8 858.5h3.8v3.8h-3.8zM210.3 858.5h3.8v3.8h-3.8zM213.8 858.5h3.8v3.8h-3.8zM206.8 862.0h3.8v3.8h-3.8zM210.3 862.0h3.8v3.8h-3.8zM213.8 862.0h3.8v3.8h-3.8zM217.3 862.0h3.8v3.8h-3.8zM220.9 862.0h3.8v3.8h-3.8zM213.8 865.6h3.8v3.8h-3.8zM217.3 865.6h3.8v3.8h-3.8zM220.9 865.6h3.8v3.8h-3.8zM224.4 865.6h3.8v3.8h-3.8zM217.3 869.1h3.8v3.8h-3.8zM220.9 869.1h3.8v3.8h-3.8zM224.4 869.1h3.8v3.8h-3.8zM227.9 869.1h3.8v3.8h-3.8zM224.4 872.6h3.8v3.8h-3.8zM227.9 872.6h3.8v3.8h-3.8zM231.5 872.6h3.8v3.8h-3.8z"/>
</g>
<circle cx="217.35" cy="855.32" r="3.25" fill="#ff0000" stroke="#fff" stroke-width="0.8"/>
<rect x="108" y="777" width="218.7" height="155.85" fill="none" stroke="#4d4d4d" stroke-width="4"/>
<rect x="348.5" y="777" width="218.7" height="155.85" fill="#00224e"/>
<g filter="url(#sb)">
<path fill="#002656" d="M401.4 837.2h3.8v3.8h-3.8zM404.9 837.2h3.8v3.8h-3.8zM408.5 837.2h3.8v3.8h-3.8zM412.0 837.2h3.8v3.8h-3.8zM401.4 840.8h3.8v3.8h-3.8zM404.9 840.8h3.8v3.8h-3.8zM415.5 840.8h3.8v3.8h-3.8zM419.0 840.8h3.8v3.8h-3.8zM422.6 840.8h3.8v3.8h-3.8zM404.9 844.3h3.8v3.8h-3.8zM408.5 844.3h3.8v3.8h-3.8zM429.6 844.3h3.8v3.8h-3.8zM433.2 844.3h3.8v3.8h-3.8zM408.5 847.8h3.8v3.8h-3.8zM412.0 847.8h3.8v3.8h-3.8zM443.7 847.8h3.8v3.8h-3.8zM447.3 847.8h3.8v3.8h-3.8zM524.9 847.8h3.8v3.8h-3.8zM415.5 851.4h3.8v3.8h-3.8zM461.4 851.4h3.8v3.8h-3.8zM464.9 851.4h3.8v3.8h-3.8zM514.3 851.4h3.8v3.8h-3.8zM517.8 851.4h3.8v3.8h-3.8zM521.3 851.4h3.8v3.8h-3.8zM524.9 851.4h3.8v3.8h-3.8zM528.4 851.4h3.8v3.8h-3.8zM419.0 854.9h3.8v3.8h-3.8zM422.6 854.9h3.8v3.8h-3.8zM486.1 854.9h3.8v3.8h-3.8zM489.6 854.9h3.8v3.8h-3.8zM493.1 854.9h3.8v3.8h-3.8zM496.7 854.9h3.8v3.8h-3.8zM500.2 854.9h3.8v3.8h-3.8zM503.7 854.9h3.8v3.8h-3.8zM514.3 854.9h3.8v3.8h-3.8zM517.8 854.9h3.8v3.8h-3.8zM521.3 854.9h3.8v3.8h-3.8zM524.9 854.9h3.8v3.8h-3.8zM429.6 858.5h3.8v3.8h-3.8zM517.8 858.5h3.8v3.8h-3.8zM521.3 858.5h3.8v3.8h-3.8zM440.2 862.0h3.8v3.8h-3.8zM443.7 862.0h3.8v3.8h-3.8zM514.3 862.0h3.8v3.8h-3.8zM517.8 862.0h3.8v3.8h-3.8zM457.9 865.6h3.8v3.8h-3.8zM461.4 865.6h3.8v3.8h-3.8zM510.8 865.6h3.8v3.8h-3.8zM479.0 869.1h3.8v3.8h-3.8zM482.5 869.1h3.8v3.8h-3.8zM486.1 869.1h3.8v3.8h-3.8zM489.6 869.1h3.8v3.8h-3.8zM493.1 869.1h3.8v3.8h-3.8zM496.7 869.1h3.8v3.8h-3.8zM500.2 869.1h3.8v3.8h-3.8z"/>
<path fill="#002a5f" d="M408.5 840.8h3.8v3.8h-3.8zM412.0 840.8h3.8v3.8h-3.8zM412.0 844.3h3.8v3.8h-3.8zM415.5 844.3h3.8v3.8h-3.8zM419.0 844.3h3.8v3.8h-3.8zM422.6 844.3h3.8v3.8h-3.8zM426.1 844.3h3.8v3.8h-3.8zM415.5 847.8h3.8v3.8h-3.8zM436.7 847.8h3.8v3.8h-3.8zM440.2 847.8h3.8v3.8h-3.8zM419.0 851.4h3.8v3.8h-3.8zM457.9 851.4h3.8v3.8h-3.8zM426.1 854.9h3.8v3.8h-3.8zM479.0 854.9h3.8v3.8h-3.8zM482.5 854.9h3.8v3.8h-3.8zM507.2 854.9h3.8v3.8h-3.8zM510.8 854.9h3.8v3.8h-3.8zM433.2 858.5h3.8v3.8h-3.8zM514.3 858.5h3.8v3.8h-3.8zM447.3 862.0h3.8v3.8h-3.8zM510.8 862.0h3.8v3.8h-3.8zM464.9 865.6h3.8v3.8h-3.8zM507.2 865.6h3.8v3.8h-3.8z"/>
<path fill="#002e6a" d="M419.0 847.8h3.8v3.8h-3.8zM433.2 847.8h3.8v3.8h-3.8zM422.6 851.4h3.8v3.8h-3.8zM454.3 851.4h3.8v3.8h-3.8zM429.6 854.9h3.8v3.8h-3.8zM475.5 854.9h3.8v3.8h-3.8zM436.7 858.5h3.8v3.8h-3.8zM510.8 858.5h3.8v3.8h-3.8zM450.8 862.0h3.8v3.8h-3.8zM468.4 865.6h3.8v3.8h-3.8zM503.7 865.6h3.8v3.8h-3.8z"/>
<path fill="#003170" d="M422.6 847.8h3.8v3.8h-3.8zM426.1 847.8h3.8v3.8h-3.8zM429.6 847.8h3.8v3.8h-3.8zM450.8 851.4h3.8v3.8h-3.8zM472.0 854.9h3.8v3.8h-3.8zM440.2 858.5h3.8v3.8h-3.8zM507.2 858.5h3.8v3.8h-3.8zM454.3 862.0h3.8v3.8h-3.8zM507.2 862.0h3.8v3.8h-3.8zM472.0 865.6h3.8v3.8h-3.8z"/>
<path fill="#0c3470" d="M426.1 851.4h3.8v3.8h-3.8zM447.3 851.4h3.8v3.8h-3.8zM433.2 854.9h3.8v3.8h-3.8zM468.4 854.9h3.8v3.8h-3.8zM503.7 858.5h3.8v3.8h-3.8zM475.5 865.6h3.8v3.8h-3.8zM500.2 865.6h3.8v3.8h-3.8z"/>
<path fill="#1a386f" d="M429.6 851.4h3.8v3.8h-3.8zM440.2 851.4h3.8v3.8h-3.8zM443.7 851.4h3.8v3.8h-3.8zM443.7 858.5h3.8v3.8h-3.8zM500.2 858.5h3.8v3.8h-3.8zM457.9 862.0h3.8v3.8h-3.8zM503.7 862.0h3.8v3.8h-3.8zM479.0 865.6h3.8v3.8h-3.8zM496.7 865.6h3.8v3.8h-3.8z"/>
<path fill="#233c6e" d="M433.2 851.4h3.8v3.8h-3.8zM436.7 851.4h3.8v3.8h-3.8zM436.7 854.9h3.8v3.8h-3.8zM464.9 854.9h3.8v3.8h-3.8zM496.7 858.5h3.8v3.8h-3.8zM482.5 865.6h3.8v3.8h-3.8z"/>
<path fill="#2a3f6d" d="M461.4 854.9h3.8v3.8h-3.8zM447.3 858.5h3.8v3.8h-3.8zM493.1 858.5h3.8v3.8h-3.8zM461.4 862.0h3.8v3.8h-3.8zM486.1 865.6h3.8v3.8h-3.8zM489.6 865.6h3.8v3.8h-3.8zM493.1 865.6h3.8v3.8h-3.8z"/>
<path fill="#32436d" d="M440.2 854.9h3.8v3.8h-3.8zM457.9 854.9h3.8v3.8h-3.8zM489.6 858.5h3.8v3.8h-3.8zM500.2 862.0h3.8v3.8h-3.8z"/>
<path fill="#38476c" d="M443.7 854.9h3.8v3.8h-3.8zM454.3 854.9h3.8v3.8h-3.8zM450.8 858.5h3.8v3.8h-3.8zM486.1 858.5h3.8v3.8h-3.8zM464.9 862.0h3.8v3.8h-3.8z"/>
<path fill="#3d4a6c" d="M447.3 854.9h3.8v3.8h-3.8zM450.8 854.9h3.8v3.8h-3.8zM482.5 858.5h3.8v3.8h-3.8z"/>
<path fill="#434e6c" d="M454.3 858.5h3.8v3.8h-3.8zM479.0 858.5h3.8v3.8h-3.8zM496.7 862.0h3.8v3.8h-3.8z"/>
<path fill="#48526c" d="M468.4 862.0h3.8v3.8h-3.8z"/>
<path fill="#4d556c" d="M457.9 858.5h3.8v3.8h-3.8zM475.5 858.5h3.8v3.8h-3.8z"/>
<path fill="#535a6d" d="M461.4 858.5h3.8v3.8h-3.8zM472.0 858.5h3.8v3.8h-3.8zM472.0 862.0h3.8v3.8h-3.8zM493.1 862.0h3.8v3.8h-3.8z"/>
<path fill="#575d6d" d="M464.9 858.5h3.8v3.8h-3.8zM468.4 858.5h3.8v3.8h-3.8z"/>
<path fill="#5c616e" d="M475.5 862.0h3.8v3.8h-3.8zM479.0 862.0h3.8v3.8h-3.8zM489.6 862.0h3.8v3.8h-3.8z"/>
<path fill="#61656f" d="M482.5 862.0h3.8v3.8h-3.8zM486.1 862.0h3.8v3.8h-3.8z"/>
</g>
<circle cx="457.85" cy="855.32" r="3.25" fill="#ff0000" stroke="#fff" stroke-width="0.8"/>
<rect x="348.5" y="777" width="218.7" height="155.85" fill="none" stroke="#4d4d4d" stroke-width="4"/>
<rect x="589" y="777" width="218.7" height="155.85" fill="#00224e"/>
<g filter="url(#sb)">
<path fill="#002656" d="M634.9 840.8h3.8v3.8h-3.8zM638.4 840.8h3.8v3.8h-3.8zM641.9 840.8h3.8v3.8h-3.8zM645.4 840.8h3.8v3.8h-3.8zM649.0 840.8h3.8v3.8h-3.8zM712.5 840.8h3.8v3.8h-3.8zM716.0 840.8h3.8v3.8h-3.8zM719.5 840.8h3.8v3.8h-3.8zM723.0 840.8h3.8v3.8h-3.8zM726.6 840.8h3.8v3.8h-3.8zM730.1 840.8h3.8v3.8h-3.8zM634.9 844.3h3.8v3.8h-3.8zM659.5 844.3h3.8v3.8h-3.8zM663.1 844.3h3.8v3.8h-3.8zM701.9 844.3h3.8v3.8h-3.8zM705.4 844.3h3.8v3.8h-3.8zM708.9 844.3h3.8v3.8h-3.8zM712.5 844.3h3.8v3.8h-3.8zM716.0 844.3h3.8v3.8h-3.8zM719.5 844.3h3.8v3.8h-3.8zM723.0 844.3h3.8v3.8h-3.8zM726.6 844.3h3.8v3.8h-3.8zM638.4 847.8h3.8v3.8h-3.8zM673.7 847.8h3.8v3.8h-3.8zM677.2 847.8h3.8v3.8h-3.8zM698.4 847.8h3.8v3.8h-3.8zM701.9 847.8h3.8v3.8h-3.8zM705.4 847.8h3.8v3.8h-3.8zM712.5 847.8h3.8v3.8h-3.8zM716.0 847.8h3.8v3.8h-3.8zM719.5 847.8h3.8v3.8h-3.8zM723.0 847.8h3.8v3.8h-3.8zM641.9 851.4h3.8v3.8h-3.8zM694.8 851.4h3.8v3.8h-3.8zM698.4 851.4h3.8v3.8h-3.8zM701.9 851.4h3.8v3.8h-3.8zM712.5 851.4h3.8v3.8h-3.8zM716.0 851.4h3.8v3.8h-3.8zM649.0 854.9h3.8v3.8h-3.8zM708.9 854.9h3.8v3.8h-3.8zM712.5 854.9h3.8v3.8h-3.8zM656.0 858.5h3.8v3.8h-3.8zM659.5 858.5h3.8v3.8h-3.8zM723.0 858.5h3.8v3.8h-3.8zM666.6 862.0h3.8v3.8h-3.8zM670.1 862.0h3.8v3.8h-3.8zM730.1 862.0h3.8v3.8h-3.8zM684.2 865.6h3.8v3.8h-3.8zM687.8 865.6h3.8v3.8h-3.8zM730.1 865.6h3.8v3.8h-3.8zM733.6 865.6h3.8v3.8h-3.8zM705.4 869.1h3.8v3.8h-3.8zM708.9 869.1h3.8v3.8h-3.8zM712.5 869.1h3.8v3.8h-3.8zM716.0 869.1h3.8v3.8h-3.8zM719.5 869.1h3.8v3.8h-3.8zM723.0 869.1h3.8v3.8h-3.8zM726.6 869.1h3.8v3.8h-3.8zM730.1 869.1h3.8v3.8h-3.8z"/>
<path fill="#002a5f" d="M638.4 844.3h3.8v3.8h-3.8zM656.0 844.3h3.8v3.8h-3.8zM641.9 847.8h3.8v3.8h-3.8zM670.1 847.8h3.8v3.8h-3.8zM708.9 847.8h3.8v3.8h-3.8zM645.4 851.4h3.8v3.8h-3.8zM687.8 851.4h3.8v3.8h-3.8zM691.3 851.4h3.8v3.8h-3.8zM705.4 851.4h3.8v3.8h-3.8zM708.9 851.4h3.8v3.8h-3.8zM652.5 854.9h3.8v3.8h-3.8zM705.4 854.9h3.8v3.8h-3.8zM719.5 858.5h3.8v3.8h-3.8zM673.7 862.0h3.8v3.8h-3.8zM726.6 862.0h3.8v3.8h-3.8zM691.3 865.6h3.8v3.8h-3.8zM726.6 865.6h3.8v3.8h-3.8z"/>
<path fill="#002e6a" d="M641.9 844.3h3.8v3.8h-3.8zM645.4 844.3h3.8v3.8h-3.8zM649.0 844.3h3.8v3.8h-3.8zM652.5 844.3h3.8v3.8h-3.8zM645.4 847.8h3.8v3.8h-3.8zM666.6 847.8h3.8v3.8h-3.8zM649.0 851.4h3.8v3.8h-3.8zM656.0 854.9h3.8v3.8h-3.8zM663.1 858.5h3.8v3.8h-3.8zM716.0 858.5h3.8v3.8h-3.8zM677.2 862.0h3.8v3.8h-3.8zM723.0 862.0h3.8v3.8h-3.8zM694.8 865.6h3.8v3.8h-3.8zM723.0 865.6h3.8v3.8h-3.8z"/>
<path fill="#003170" d="M663.1 847.8h3.8v3.8h-3.8zM684.2 851.4h3.8v3.8h-3.8zM701.9 854.9h3.8v3.8h-3.8zM680.7 862.0h3.8v3.8h-3.8zM698.4 865.6h3.8v3.8h-3.8zM719.5 865.6h3.8v3.8h-3.8z"/>
<path fill="#0c3470" d="M649.0 847.8h3.8v3.8h-3.8zM659.5 847.8h3.8v3.8h-3.8zM652.5 851.4h3.8v3.8h-3.8zM680.7 851.4h3.8v3.8h-3.8zM666.6 858.5h3.8v3.8h-3.8zM712.5 858.5h3.8v3.8h-3.8zM719.5 862.0h3.8v3.8h-3.8zM701.9 865.6h3.8v3.8h-3.8zM716.0 865.6h3.8v3.8h-3.8z"/>
<path fill="#1a386f" d="M652.5 847.8h3.8v3.8h-3.8zM656.0 847.8h3.8v3.8h-3.8zM677.2 851.4h3.8v3.8h-3.8zM659.5 854.9h3.8v3.8h-3.8zM698.4 854.9h3.8v3.8h-3.8zM684.2 862.0h3.8v3.8h-3.8zM705.4 865.6h3.8v3.8h-3.8zM712.5 865.6h3.8v3.8h-3.8z"/>
<path fill="#233c6e" d="M656.0 851.4h3.8v3.8h-3.8zM670.1 858.5h3.8v3.8h-3.8zM716.0 862.0h3.8v3.8h-3.8zM708.9 865.6h3.8v3.8h-3.8z"/>
<path fill="#2a3f6d" d="M673.7 851.4h3.8v3.8h-3.8zM694.8 854.9h3.8v3.8h-3.8zM708.9 858.5h3.8v3.8h-3.8zM687.8 862.0h3.8v3.8h-3.8z"/>
<path fill="#32436d" d="M659.5 851.4h3.8v3.8h-3.8zM670.1 851.4h3.8v3.8h-3.8zM663.1 854.9h3.8v3.8h-3.8z"/>
<path fill="#38476c" d="M663.1 851.4h3.8v3.8h-3.8zM666.6 851.4h3.8v3.8h-3.8zM691.3 854.9h3.8v3.8h-3.8zM673.7 858.5h3.8v3.8h-3.8zM712.5 862.0h3.8v3.8h-3.8z"/>
<path fill="#3d4a6c" d="M705.4 858.5h3.8v3.8h-3.8zM691.3 862.0h3.8v3.8h-3.8z"/>
<path fill="#434e6c" d="M666.6 854.9h3.8v3.8h-3.8z"/>
<path fill="#48526c" d="M687.8 854.9h3.8v3.8h-3.8zM677.2 858.5h3.8v3.8h-3.8z"/>
<path fill="#4d556c" d="M701.9 858.5h3.8v3.8h-3.8zM694.8 862.0h3.8v3.8h-3.8zM708.9 862.0h3.8v3.8h-3.8z"/>
<path fill="#535a6d" d="M670.1 854.9h3.8v3.8h-3.8zM684.2 854.9h3.8v3.8h-3.8zM698.4 862.0h3.8v3.8h-3.8z"/>
<path fill="#575d6d" d="M673.7 854.9h3.8v3.8h-3.8zM680.7 854.9h3.8v3.8h-3.8zM680.7 858.5h3.8v3.8h-3.8zM701.9 862.0h3.8v3.8h-3.8zM705.4 862.0h3.8v3.8h-3.8z"/>
<path fill="#5c616e" d="M677.2 854.9h3.8v3.8h-3.8zM698.4 858.5h3.8v3.8h-3.8z"/>
<path fill="#61656f" d="M684.2 858.5h3.8v3.8h-3.8z"/>
<path fill="#6a6c71" d="M687.8 858.5h3.8v3.8h-3.8zM691.3 858.5h3.8v3.8h-3.8zM694.8 858.5h3.8v3.8h-3.8z"/>
</g>
<circle cx="698.35" cy="855.32" r="3.25" fill="#ff0000" stroke="#fff" stroke-width="0.8"/>
<rect x="589" y="777" width="218.7" height="155.85" fill="none" stroke="#4d4d4d" stroke-width="4"/>
<text x="148.3" y="545.5" font-size="33" fill="#000"><tspan textLength="106" lengthAdjust="spacingAndGlyphs">Round</tspan> <tspan x="268.9" textLength="18.2" lengthAdjust="spacingAndGlyphs">0</tspan></text>
<text x="388.9" y="545.5" font-size="33" fill="#000"><tspan textLength="106" lengthAdjust="spacingAndGlyphs">Round</tspan> <tspan x="509.5" textLength="18.2" lengthAdjust="spacingAndGlyphs">1</tspan></text>
<text x="629.4" y="545.5" font-size="33" fill="#000"><tspan textLength="106" lengthAdjust="spacingAndGlyphs">Round</tspan> <tspan x="750.0" textLength="18.2" lengthAdjust="spacingAndGlyphs">2</tspan></text>
<text x="852.5" y="643.1" font-size="33" text-anchor="start" fill="#000" textLength="78.5" lengthAdjust="spacingAndGlyphs">good</text>
<text x="830.5" y="677.8" font-size="33" text-anchor="start" fill="#000" textLength="121.5" lengthAdjust="spacingAndGlyphs">approx.</text>
<text x="855.5" y="846.1" font-size="33" text-anchor="start" fill="#000" textLength="73.0" lengthAdjust="spacingAndGlyphs">poor</text>
<text x="830.5" y="880.4" font-size="33" text-anchor="start" fill="#000" textLength="121.5" lengthAdjust="spacingAndGlyphs">approx.</text>
<defs><linearGradient id="cb" x1="0" y1="1" x2="0" y2="0">
<stop offset="0.0000" stop-color="#00224e"/>
<stop offset="0.0312" stop-color="#00285b"/>
<stop offset="0.0625" stop-color="#002e6a"/>
<stop offset="0.0938" stop-color="#053371"/>
<stop offset="0.1250" stop-color="#1a386f"/>
<stop offset="0.1562" stop-color="#273e6e"/>
<stop offset="0.1875" stop-color="#32436d"/>
<stop offset="0.2188" stop-color="#3b496c"/>
<stop offset="0.2500" stop-color="#434e6c"/>
<stop offset="0.2812" stop-color="#4b546c"/>
<stop offset="0.3125" stop-color="#535a6d"/>
<stop offset="0.3438" stop-color="#5a5f6e"/>
<stop offset="0.3750" stop-color="#61656f"/>
<stop offset="0.4062" stop-color="#686a71"/>
<stop offset="0.4375" stop-color="#6f7073"/>
<stop offset="0.4688" stop-color="#767676"/>
<stop offset="0.5000" stop-color="#7d7c78"/>
<stop offset="0.5312" stop-color="#848279"/>
<stop offset="0.5625" stop-color="#8c8878"/>
<stop offset="0.5938" stop-color="#938e78"/>
<stop offset="0.6250" stop-color="#9b9476"/>
<stop offset="0.6562" stop-color="#a39a74"/>
<stop offset="0.6875" stop-color="#aba072"/>
<stop offset="0.7188" stop-color="#b4a76f"/>
<stop offset="0.7500" stop-color="#bcae6c"/>
<stop offset="0.7812" stop-color="#c4b468"/>
<stop offset="0.8125" stop-color="#cdbb63"/>
<stop offset="0.8438" stop-color="#d5c25e"/>
<stop offset="0.8750" stop-color="#dec958"/>
<stop offset="0.9062" stop-color="#e7d150"/>
<stop offset="0.9375" stop-color="#f0d846"/>
<stop offset="0.9688" stop-color="#f9e03a"/>
<stop offset="1.0000" stop-color="#fee838"/>
</linearGradient></defs>
<rect x="996.2" y="574" width="17.9" height="358.85" fill="url(#cb)" stroke="#4d4d4d" stroke-width="4"/>
<text transform="translate(1053.7 645.8) rotate(-90)" font-size="33" text-anchor="start" fill="#4d4d4d" textLength="71.0" lengthAdjust="spacingAndGlyphs">high</text>
<text transform="translate(1053.7 923.5) rotate(-90)" font-size="33" text-anchor="start" fill="#4d4d4d" textLength="53.5" lengthAdjust="spacingAndGlyphs">low</text>
<g transform="translate(1100.6 883.6) rotate(-90)" fill="#4d4d4d" font-size="29.5">
<text x="0" y="0" textLength="132.5" lengthAdjust="spacingAndGlyphs">Posterior</text>
<text x="146.3" y="0" class="i" textLength="16" lengthAdjust="spacingAndGlyphs">p</text>
<text x="165" y="0" textLength="13.5" lengthAdjust="spacingAndGlyphs">(</text>
<text x="179.5" y="0" class="i" textLength="18" lengthAdjust="spacingAndGlyphs">θ</text>
<rect x="211.8" y="-21.6" width="1.6" height="28.6"/>
<text x="228.5" y="0" class="i" textLength="16" lengthAdjust="spacingAndGlyphs">x</text>
<text x="245" y="0" textLength="13.5" lengthAdjust="spacingAndGlyphs">)</text>
</g>
<g transform="translate(43.4 870) rotate(-90)" fill="#000">
<text x="0" y="0" class="i" font-size="36.5" textLength="17.8" lengthAdjust="spacingAndGlyphs">g</text>
<text x="20.3" y="6" font-size="27.5" textLength="68.5" lengthAdjust="spacingAndGlyphs">axial</text>
<line x1="101.2" y1="9.2" x2="117.10000000000001" y2="-28.6" stroke="#000" stroke-width="1.8"/>
<text x="127.5" y="0" font-size="39" textLength="85" lengthAdjust="spacingAndGlyphs">DAC</text>
</g>
<g transform="translate(474.4 1005.9)" fill="#000">
<text x="0" y="0" class="i" font-size="36.5" textLength="17.8" lengthAdjust="spacingAndGlyphs">g</text>
<text x="18.5" y="6" font-size="27.5" textLength="60.5" lengthAdjust="spacingAndGlyphs">leak</text>
<line x1="90.2" y1="9.2" x2="106.10000000000001" y2="-28.6" stroke="#000" stroke-width="1.8"/>
<text x="116.5" y="0" font-size="39" textLength="85" lengthAdjust="spacingAndGlyphs">DAC</text>
</g>
</svg></body></html>
